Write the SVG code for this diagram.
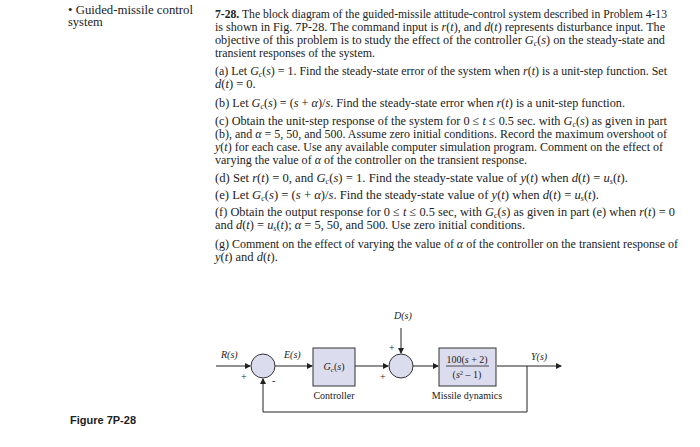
<svg xmlns="http://www.w3.org/2000/svg" width="700" height="447" viewBox="0 0 700 447">
<defs>
<style>
.t{font-family:"Liberation Serif",serif;font-size:12.5px;fill:#222}
.s{font-family:"Liberation Serif",serif;font-size:10px;fill:#222}
.i{font-style:italic}
.b{font-weight:bold}
.box{fill:#dcdcef;stroke:#333;stroke-width:1}
.ln{stroke:#222;stroke-width:1;fill:none}
</style>
<marker id="a" markerWidth="6" markerHeight="6" refX="5" refY="3" orient="auto" markerUnits="userSpaceOnUse"><path d="M0,0 L6,3 L0,6 Z" fill="#222"/></marker>
</defs>
<rect width="700" height="447" fill="#fff"/>
<g id="text">
<text class="t" x="68" y="14" textLength="125" lengthAdjust="spacingAndGlyphs">• Guided-missile control</text>
<text class="t" x="68" y="26">system</text>
<text class="t" x="215" y="18" textLength="452" lengthAdjust="spacingAndGlyphs"><tspan class="b">7-28.</tspan> The block diagram of the guided-missile attitude-control system described in Problem 4-13</text>
<text class="t" x="215" y="31" textLength="450" lengthAdjust="spacingAndGlyphs">is shown in Fig. 7P-28. The command input is <tspan class="i">r</tspan>(<tspan class="i">t</tspan>), and <tspan class="i">d</tspan>(<tspan class="i">t</tspan>) represents disturbance input. The</text>
<text class="t" x="215" y="44" textLength="450" lengthAdjust="spacingAndGlyphs">objective of this problem is to study the effect of the controller <tspan class="i">G</tspan><tspan class="i" font-size="8" dy="2">c</tspan><tspan dy="-2">(</tspan><tspan class="i">s</tspan>) on the steady-state and</text>
<text class="t" x="215" y="57" textLength="160" lengthAdjust="spacingAndGlyphs">transient responses of the system.</text>
<text class="t" x="215" y="75" textLength="452" lengthAdjust="spacingAndGlyphs">(a) Let <tspan class="i">G</tspan><tspan class="i" font-size="8" dy="2">c</tspan><tspan dy="-2">(</tspan><tspan class="i">s</tspan>) = 1. Find the steady-state error of the system when <tspan class="i">r</tspan>(<tspan class="i">t</tspan>) is a unit-step function. Set</text>
<text class="t" x="215" y="88"><tspan class="i">d</tspan>(<tspan class="i">t</tspan>) = 0.</text>
<text class="t" x="215" y="107" textLength="410" lengthAdjust="spacingAndGlyphs">(b) Let <tspan class="i">G</tspan><tspan class="i" font-size="8" dy="2">c</tspan><tspan dy="-2">(</tspan><tspan class="i">s</tspan>) = (<tspan class="i">s</tspan> + <tspan class="i">α</tspan>)/<tspan class="i">s</tspan>. Find the steady-state error when <tspan class="i">r</tspan>(<tspan class="i">t</tspan>) is a unit-step function.</text>
<text class="t" x="215" y="125" textLength="452" lengthAdjust="spacingAndGlyphs">(c) Obtain the unit-step response of the system for 0 ≤ <tspan class="i">t</tspan> ≤ 0.5 sec. with <tspan class="i">G</tspan><tspan class="i" font-size="8" dy="2">c</tspan><tspan dy="-2">(</tspan><tspan class="i">s</tspan>) as given in part</text>
<text class="t" x="215" y="138" textLength="452" lengthAdjust="spacingAndGlyphs">(b), and <tspan class="i">α</tspan> = 5, 50, and 500. Assume zero initial conditions. Record the maximum overshoot of</text>
<text class="t" x="215" y="151" textLength="448" lengthAdjust="spacingAndGlyphs"><tspan class="i">y</tspan>(<tspan class="i">t</tspan>) for each case. Use any available computer simulation program. Comment on the effect of</text>
<text class="t" x="215" y="164" textLength="312" lengthAdjust="spacingAndGlyphs">varying the value of <tspan class="i">α</tspan> of the controller on the transient response.</text>
<text class="t" x="215" y="182" textLength="413" lengthAdjust="spacingAndGlyphs">(d) Set <tspan class="i">r</tspan>(<tspan class="i">t</tspan>) = 0, and <tspan class="i">G</tspan><tspan class="i" font-size="8" dy="2">c</tspan><tspan dy="-2">(</tspan><tspan class="i">s</tspan>) = 1. Find the steady-state value of <tspan class="i">y</tspan>(<tspan class="i">t</tspan>) when <tspan class="i">d</tspan>(<tspan class="i">t</tspan>) = <tspan class="i">u</tspan><tspan class="i" font-size="8" dy="2">s</tspan><tspan dy="-2">(</tspan><tspan class="i">t</tspan>).</text>
<text class="t" x="215" y="199" textLength="384" lengthAdjust="spacingAndGlyphs">(e) Let <tspan class="i">G</tspan><tspan class="i" font-size="8" dy="2">c</tspan><tspan dy="-2">(</tspan><tspan class="i">s</tspan>) = (<tspan class="i">s</tspan> + <tspan class="i">α</tspan>)/<tspan class="i">s</tspan>. Find the steady-state value of <tspan class="i">y</tspan>(<tspan class="i">t</tspan>) when <tspan class="i">d</tspan>(<tspan class="i">t</tspan>) = <tspan class="i">u</tspan><tspan class="i" font-size="8" dy="2">s</tspan><tspan dy="-2">(</tspan><tspan class="i">t</tspan>).</text>
<text class="t" x="215" y="216" textLength="460" lengthAdjust="spacingAndGlyphs">(f) Obtain the output response for 0 ≤ <tspan class="i">t</tspan> ≤ 0.5 sec, with <tspan class="i">G</tspan><tspan class="i" font-size="8" dy="2">c</tspan><tspan dy="-2">(</tspan><tspan class="i">s</tspan>) as given in part (e) when <tspan class="i">r</tspan>(<tspan class="i">t</tspan>) = 0</text>
<text class="t" x="215" y="229" textLength="310" lengthAdjust="spacingAndGlyphs">and <tspan class="i">d</tspan>(<tspan class="i">t</tspan>) = <tspan class="i">u</tspan><tspan class="i" font-size="8" dy="2">s</tspan><tspan dy="-2">(</tspan><tspan class="i">t</tspan>); <tspan class="i">α</tspan> = 5, 50, and 500. Use zero initial conditions.</text>
<text class="t" x="215" y="248" textLength="463" lengthAdjust="spacingAndGlyphs">(g) Comment on the effect of varying the value of <tspan class="i">α</tspan> of the controller on the transient response of</text>
<text class="t" x="215" y="261"><tspan class="i">y</tspan>(<tspan class="i">t</tspan>) and <tspan class="i">d</tspan>(<tspan class="i">t</tspan>).</text>
<text x="70" y="424" font-family="Liberation Sans,sans-serif" font-size="11" font-weight="bold" fill="#222">Figure 7P-28</text>
</g>
<g id="connectors">
<line class="ln" x1="216" y1="366" x2="250" y2="366" marker-end="url(#a)"/>
<line class="ln" x1="275" y1="366" x2="312" y2="366" marker-end="url(#a)"/>
<line class="ln" x1="355" y1="366" x2="388" y2="366" marker-end="url(#a)"/>
<line class="ln" x1="401" y1="328" x2="401" y2="353" marker-end="url(#a)"/>
<line class="ln" x1="413" y1="366" x2="438" y2="366" marker-end="url(#a)"/>
<line class="ln" x1="497" y1="366" x2="561" y2="366" marker-end="url(#a)"/>
<polyline class="ln" points="527,366 527,412 263,412 263,379" marker-end="url(#a)"/>
</g>
<g id="sum1"><circle cx="263" cy="366" r="12" class="box"/></g>
<g id="controller"><rect x="313" y="348" width="42" height="38" class="box"/>
<text class="s" x="334" y="370" text-anchor="middle"><tspan class="i">G</tspan><tspan class="i" font-size="7" dy="2">c</tspan><tspan dy="-2">(</tspan><tspan class="i">s</tspan>)</text>
<text class="s" x="334" y="399" text-anchor="middle">Controller</text></g>
<g id="sum2"><circle cx="401" cy="366" r="12" class="box"/></g>
<g id="missile"><rect x="439" y="348" width="57" height="38" class="box"/>
<text class="s" x="467" y="363" text-anchor="middle">100(<tspan class="i">s</tspan> + 2)</text>
<line x1="446" y1="366" x2="489" y2="366" stroke="#222" stroke-width="0.8"/>
<text class="s" x="467" y="378" text-anchor="middle">(<tspan class="i">s</tspan><tspan font-size="6.5" dy="-3">2</tspan><tspan dy="3"> – 1)</tspan></text>
<text class="s" x="467" y="399" text-anchor="middle">Missile dynamics</text></g>
<g id="labels">
<text class="s i" x="221" y="358">R(s)</text>
<text class="s i" x="284" y="358">E(s)</text>
<text class="s i" x="394" y="319">D(s)</text>
<text class="s i" x="531" y="360">Y(s)</text>
<text class="s" x="241" y="380">+</text>
<text class="s" x="272" y="384">-</text>
<text class="s" x="389" y="351">+</text>
<text class="s" x="380" y="380">+</text>
</g>
</svg>
